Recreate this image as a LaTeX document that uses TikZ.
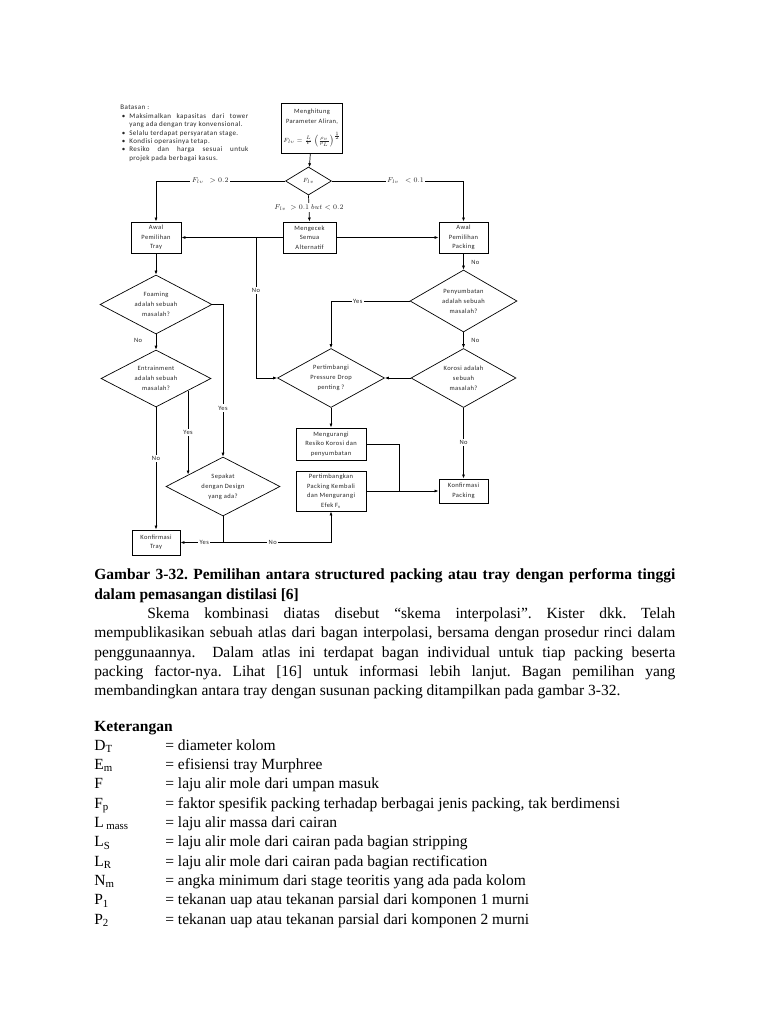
\documentclass[tikz,border=0pt]{standalone}
\usepackage{fontspec}
\setmainfont{Liberation Serif}
\newfontfamily\chartfont{Carlito}[LetterSpace=6]
\usetikzlibrary{shapes.geometric,arrows.meta,calc}
\newcommand{\butir}[1]{\par\hangindent=9pt\hangafter=1\noindent\hbox to 9pt{\hskip 1.5pt\textbullet\hfil}#1}
\newcommand{\flv}{F_{lv}}
\tikzset{
  box/.style={draw,line width=0.9pt,inner sep=0pt,align=center,text=black!85,
    font=\chartfont\fontsize{6.5}{9.5}\selectfont},
  dia/.style={draw,diamond,aspect=2,inner sep=0pt,align=center,text=black!85,
    font=\chartfont\fontsize{6.5}{10}\selectfont},
  lbl/.style={fill=white,inner sep=1.5pt,text=black!85,font=\chartfont\fontsize{6.5}{8}\selectfont},
  mlbl/.style={lbl,font=\fontsize{7.5}{9}\selectfont},
  txt/.style={inner sep=0pt,font=\fontsize{15.5}{19.35}\selectfont},
}
\begin{document}
\begin{tikzpicture}[x=1pt,y=-1pt,>={Latex[length=4pt,width=3pt]},line width=0.7pt]
	\fill[white] (0,0) rectangle (768,1024);
	\useasboundingbox (0,0) rectangle (768,1024);
	% batasan
	\node[anchor=north west,inner sep=0pt,text width=128pt,align=justify,text=black!85,
	  font=\chartfont\fontsize{7}{8.4}\selectfont] (batas) at (120,105) {Batasan :
	  \butir{Maksimalkan kapasitas dari tower\linebreak yang ada dengan tray konvensional.}
	  \butir{Selalu terdapat persyaratan stage.}
	  \butir{Kondisi operasinya tetap.}
	  \butir{Resiko dan harga sesuai untuk\linebreak projek pada berbagai kasus.}\par};
	% boxes and decisions
	\node[box,inner xsep=2pt,minimum width=58pt,minimum height=50pt] (hitung) at (312,128) {Menghitung\\Parameter Aliran,\\[7pt]$\flv=\frac{L}{V}\left(\frac{\rho_v}{\rho_L}\right)^{\frac{1}{2}}$};
	\node[dia,minimum width=46pt,minimum height=28pt] (fdia) at (308.5,181) {$\flv$};
	\node[box,minimum width=50pt,minimum height=31pt] (tray) at (156,237.5) {Awal\\Pemilihan\\Tray};
	\node[box,minimum width=53pt,minimum height=31pt] (cek) at (309.5,237.5) {Mengecek\\Semua\\Alternatif};
	\node[box,minimum width=49pt,minimum height=31pt] (pack) at (463.5,237.5) {Awal\\Pemilihan\\Packing};
	\node[dia,minimum width=112pt,minimum height=59pt] (foam) at (156,304.5) {Foaming\\adalah sebuah\\masalah?};
	\node[dia,minimum width=110pt,minimum height=57pt] (ent) at (156,378.5) {Entrainment\\adalah sebuah\\masalah?};
	\node[dia,minimum width=114pt,minimum height=59pt] (sepakat) at (223,486.5) {Sepakat\\dengan Design\\yang ada?};
	\node[box,minimum width=48pt,minimum height=25pt] (ktray) at (156,542.5) {Konfirmasi\\Tray};
	\node[dia,minimum width=107pt,minimum height=62pt] (sumbat) at (463.5,301) {Penyumbatan\\adalah sebuah\\masalah?};
	\node[dia,minimum width=105pt,minimum height=59pt] (korosi) at (463.5,378) {Korosi adalah\\sebuah\\masalah?};
	\node[dia,minimum width=107pt,minimum height=59pt] (pdrop) at (331,378) {Pertimbangi\\Pressure Drop\\penting ?};
	\node[box,minimum width=70pt,minimum height=32pt] (kurang) at (331,444) {Mengurangi\\Resiko Korosi dan\\penyumbatan};
	\node[box,minimum width=70pt,minimum height=40pt] (ulang) at (331,491) {Pertimbangkan\\Packing Kembali\\dan Mengurangi\\Efek F\textsubscript{v}};
	\node[box,minimum width=49pt,minimum height=24pt] (kpack) at (463.5,491) {Konfirmasi\\Packing};
	\coordinate (jcek) at (256,237.5);
	\coordinate (jbawah) at (sepakat.south |- ktray.east);
	\coordinate (jkanan) at (399,491);
	\coordinate (e1) at ($(ent.east)!0.42!(ent.south)$);
	\coordinate (s1) at ($(sepakat.west)!0.4!(sepakat.north)$);
	% connectors
	\draw[->] (hitung) -- (fdia);
	\draw[->] (fdia.west) -| node[mlbl,pos=0.29] {$\flv\ \ >0.2$} (tray.north);
	\draw[->] (fdia.east) -| node[mlbl,pos=0.28] {$\flv\ \ <0.1$} (pack.north);
	\draw[->] (fdia.south) -- node[mlbl,pos=0.48] {$\flv\ >0.1\ but<0.2$} (cek.north);
	\draw[->] (cek.west) -- (tray.east);
	\draw[->] (cek.east) -- (pack.west);
	\draw[->] (jcek) |- node[lbl,pos=0.19] {No} (pdrop.west);
	\draw[->] (tray) -- (foam);
	\draw[->] (foam.east) -| node[lbl,pos=0.84] {Yes} (sepakat.north);
	\draw[->] (foam.south) -- node[left=12pt,pos=0.4,lbl,fill=none] {No} (ent.north);
	\draw[->] (ent.south) -- node[lbl,pos=0.42] {No} (ktray.north);
	\draw[->] (e1) -- node[lbl,pos=0.5] {Yes} (e1 |- s1);
	\draw[->] (sepakat.south) |- node[lbl,pos=0.72] {Yes} (ktray.east);
	\draw[->] (jbawah) -| node[lbl,pos=0.23] {No} (ulang.south);
	\draw[->] (pack) -- node[right=6pt,pos=0.55,lbl,fill=none] {No} (sumbat);
	\draw[->] (sumbat.west) -| node[lbl,pos=0.33] {Yes} (pdrop.north);
	\draw[->] (sumbat) -- node[right=6pt,lbl,fill=none] {No} (korosi);
	\draw[->] (korosi) -- (pdrop);
	\draw[->] (korosi) -- node[lbl,pos=0.49] {No} (kpack);
	\draw[->] (pdrop) -- (kurang);
	\draw[->] (ulang) -- (kpack);
	\draw (kurang.east) -| (jkanan);
	% caption and text
	\node[txt,anchor=north west,text width=581pt,align=justify] (teks) at (94,568.5) {\frenchspacing\hyphenpenalty=10000\exhyphenpenalty=10000
	  {\bfseries Gambar 3-32. Pemilihan antara structured packing atau tray dengan performa tinggi\linebreak dalam pemasangan distilasi [6]\par}
	  \hspace*{53pt}Skema kombinasi diatas disebut “skema interpolasi”. Kister dkk. Telah\linebreak mempublikasikan sebuah atlas dari bagan interpolasi, bersama dengan prosedur rinci dalam\linebreak penggunaannya.\ \ Dalam atlas ini terdapat bagan individual untuk tiap packing beserta\linebreak packing factor-nya. Lihat [16] untuk informasi lebih lanjut. Bagan pemilihan yang\linebreak membandingkan antara tray dengan susunan packing ditampilkan pada gambar 3-32.};
	\node[txt,anchor=base west,font=\fontsize{15.5}{19.35}\selectfont\bfseries] (ket) at (94,731) {Keterangan};
	\foreach \sym/\desc [count=\i] in {D\textsubscript{T}/diameter kolom,
	  E\textsubscript{m}/efisiensi tray Murphree,
	  F/laju alir mole dari umpan masuk,
	  F\textsubscript{p}/{faktor spesifik packing terhadap berbagai jenis packing, tak berdimensi},
	  L\,\textsubscript{mass}/laju alir massa dari cairan,
	  L\textsubscript{S}/laju alir mole dari cairan pada bagian stripping,
	  L\textsubscript{R}/laju alir mole dari cairan pada bagian rectification,
	  N\textsubscript{m}/angka minimum dari stage teoritis yang ada pada kolom,
	  P\textsubscript{1}/tekanan uap atau tekanan parsial dari komponen 1 murni,
	  P\textsubscript{2}/tekanan uap atau tekanan parsial dari komponen 2 murni} {
	  \node[txt,anchor=base west] (sym\i) at (94,{731+19.33*\i}) {\sym};
	  \node[txt,anchor=base west] (arti\i) at (165,{731+19.33*\i}) {= \desc};
	}
\end{tikzpicture}
\end{document}
